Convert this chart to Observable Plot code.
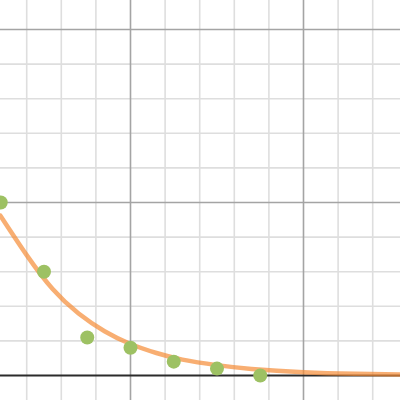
<!DOCTYPE html>
<html>
<head>
<meta charset="utf-8">
<script src="https://cdn.jsdelivr.net/npm/d3@7"></script>
<script src="https://cdn.jsdelivr.net/npm/@observablehq/plot@0.6"></script>
<style>
  html, body { margin: 0; padding: 0; background: #fff; }
  svg { display: block; }
</style>
</head>
<body>
<div id="chart"></div>
<script>
// Data points (grid units)
const pointX = [-3.75, -2.5, -1.25, 0, 1.25, 2.5, 3.75];
const pointY = [5.0, 3.0, 1.1, 0.8, 0.4, 0.2, 0.0];

// Fitted curve, values
const curveX = [-3.76, -3.0, -2.25, -1.5, -0.75, 0, 0.75, 1.5, 2.5, 3.5, 5.0, 6.5, 7.81];
const curveY = [4.62, 3.48, 2.50, 1.79, 1.28, 0.91, 0.65, 0.46, 0.30, 0.19, 0.095, 0.05, 0.03];

// Grid lines
const minorX = [-3, -2, -1, 1, 2, 3, 4, 6, 7];
const majorX = [0, 5];
const minorY = [1, 2, 3, 4, 6, 7, 8, 9];
const majorY = [5, 10];
const axisY = [0];

const points = pointX.map((x, i) => ({x, y: pointY[i]}));
const curve = curveX.map((x, i) => ({x, y: curveY[i]}));

const chart = Plot.plot({
  width: 400,
  height: 400,
  margin: 0,
  x: {domain: [-130 / 34.6, 270 / 34.6], axis: null},
  y: {domain: [-25 / 34.6, 375 / 34.6], axis: null},
  style: {background: "#fff"},
  marks: [
    Plot.ruleX(minorX, {stroke: "#dedede", strokeWidth: 1.6}),
    Plot.ruleY(minorY, {stroke: "#dedede", strokeWidth: 1.6}),
    Plot.ruleX(majorX, {stroke: "#a4a4a4", strokeWidth: 1.6}),
    Plot.ruleY(majorY, {stroke: "#a4a4a4", strokeWidth: 1.6}),
    Plot.ruleY(axisY, {stroke: "#2b2b2b", strokeWidth: 2}),
    Plot.line(curve, {x: "x", y: "y", curve: "natural", stroke: "#f58b36", strokeOpacity: 0.7, strokeWidth: 4.5}),
    Plot.dot(points, {x: "x", y: "y", r: 7, fill: "#9dc163", stroke: "none"})
  ]
});
document.getElementById("chart").appendChild(chart);
</script>
</body>
</html>
